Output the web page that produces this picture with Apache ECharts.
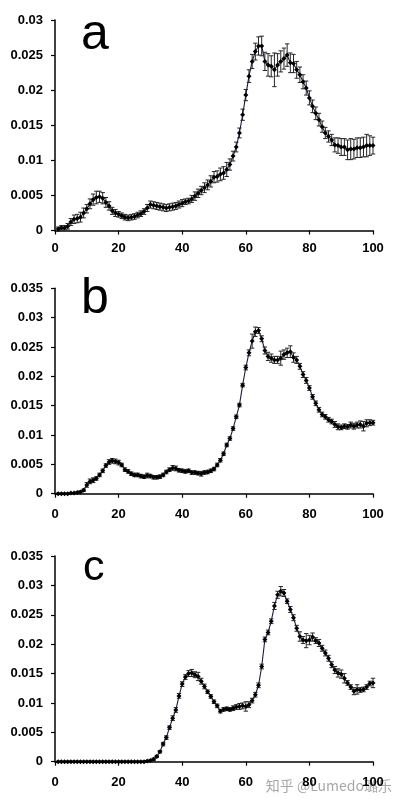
<!DOCTYPE html>
<html><head><meta charset="utf-8">
<script src="https://cdn.jsdelivr.net/npm/echarts@6/dist/echarts.min.js"></script>
<style>html,body{margin:0;padding:0;background:#fff}#c{width:400px;height:805px}</style>
</head><body><div id="c"></div>
<script>
// x positions of the measured points
const xPos = [1,2,3,4,5,6,7,8,9,10,11,12,13,14,15,16,17,18,19,20,21,22,23,24,25,26,27,28,29,30,31,32,33,34,35,36,37,38,39,40,41,42,43,44,45,46,47,48,49,50,51,52,53,54,55,56,57,58,59,60,61,62,63,64,65,66,67,68,69,70,71,72,73,74,75,76,77,78,79,80,81,82,83,84,85,86,87,88,89,90,91,92,93,94,95,96,97,98,99,100];

// panel a
const valuesA = [0.0002,0.0004,0.0004,0.0006,0.0012,0.0016,0.0017,0.0019,0.0025,0.0031,
0.0038,0.0044,0.0047,0.0048,0.0046,0.0040,0.0035,0.0028,0.0025,0.0023,
0.0021,0.0019,0.0018,0.0019,0.0020,0.0022,0.0024,0.0027,0.0032,0.0037,
0.0036,0.0035,0.0034,0.0033,0.0032,0.0033,0.0034,0.0035,0.0037,0.0039,
0.0041,0.0042,0.0045,0.0049,0.0053,0.0057,0.0061,0.0065,0.0070,0.0076,
0.0077,0.0080,0.0082,0.0087,0.0094,0.0106,0.0119,0.0139,0.0165,0.0193,
0.0220,0.0241,0.0255,0.0263,0.0263,0.0241,0.0236,0.0234,0.0229,0.0236,
0.0241,0.0245,0.0250,0.0239,0.0238,0.0229,0.0222,0.0212,0.0203,0.0189,
0.0177,0.0167,0.0158,0.0148,0.0139,0.0134,0.0129,0.0122,0.0121,0.0119,
0.0119,0.0115,0.0116,0.0116,0.0118,0.0118,0.0119,0.0121,0.0121,0.0121];
const errorsA = [0.0003,0.0003,0.0003,0.0004,0.0005,0.0006,0.0006,0.0007,0.0007,0.0006,
0.0007,0.0008,0.0009,0.0008,0.0008,0.0007,0.0006,
0.0005,0.0005,0.0004,0.0004,0.0004,0.0004,0.0004,0.0004,0.0004,0.0004,0.0004,0.0005,0.0005,
0.0005,0.0005,0.0005,0.0005,0.0005,0.0005,0.0005,0.0005,0.0005,0.0005,0.0004,0.0004,0.0005,0.0006,0.0006,
0.0006,0.0007,0.0007,0.0008,0.0008,0.0008,0.0009,0.0009,0.0010,0.0008,0.0007,0.0007,
0.0007,0.0008,0.0008,0.0009,0.0010,
0.0012,0.0013,0.0014,0.0013,
0.0016,0.0015,0.0024,0.0016,0.0015,0.0015,0.0016,0.0014,0.0013,0.0012,0.0011,0.0010,
0.0010,0.0010,0.0009,0.0009,0.0009,0.0008,0.0008,0.0008,0.0008,0.0010,
0.0011,0.0012,0.0012,0.0014,0.0015,0.0014,0.0014,0.0014,0.0014,0.0016,0.0014,0.0012];

// panel b
const valuesB = [0.0000,0.0000,0.0000,0.0000,0.0001,0.0001,0.0002,0.0003,0.0006,0.0015,
0.0021,0.0023,0.0026,0.0032,0.0039,0.0048,0.0054,0.0056,0.0055,0.0053,
0.0049,0.0041,0.0038,0.0034,0.0032,0.0032,0.0030,0.0029,0.0031,0.0030,
0.0028,0.0028,0.0029,0.0032,0.0037,0.0041,0.0044,0.0043,0.0040,0.0039,
0.0038,0.0039,0.0036,0.0036,0.0035,0.0034,0.0036,0.0037,0.0039,0.0042,
0.0049,0.0057,0.0068,0.0083,0.0094,0.0111,0.0131,0.0151,0.0185,0.0215,
0.0240,0.0260,0.0276,0.0278,0.0264,0.0244,0.0234,0.0231,0.0228,0.0228,
0.0231,0.0237,0.0240,0.0242,0.0232,0.0228,0.0217,0.0203,0.0193,0.0180,
0.0165,0.0154,0.0143,0.0135,0.0131,0.0126,0.0123,0.0118,0.0114,0.0113,
0.0115,0.0114,0.0117,0.0115,0.0117,0.0118,0.0115,0.0120,0.0121,0.0121];
const errorsB = [0.0001,0.0001,0.0001,0.0001,0.0001,0.0001,0.0001,0.0002,0.0002,
0.0004,0.0004,0.0004,0.0003,0.0003,0.0003,0.0003,0.0004,0.0004,0.0004,0.0004,0.0003,
0.0003,0.0003,0.0003,0.0003,0.0003,0.0003,0.0003,0.0004,0.0003,0.0003,
0.0003,0.0003,0.0003,0.0003,0.0003,0.0004,0.0004,0.0003,0.0003,0.0003,
0.0003,0.0003,0.0003,0.0003,0.0004,0.0003,0.0003,0.0003,0.0003,
0.0003,0.0003,0.0003,0.0003,0.0003,0.0003,0.0003,0.0003,0.0003,0.0004,
0.0005,0.0012,0.0008,0.0005,0.0005,
0.0006,0.0007,0.0007,0.0006,0.0006,0.0012,0.0008,0.0008,0.0010,0.0008,0.0006,0.0005,0.0005,
0.0005,0.0004,0.0004,0.0004,0.0004,0.0004,0.0004,0.0004,0.0004,0.0005,
0.0005,0.0004,0.0004,0.0004,0.0005,0.0005,0.0005,0.0006,0.0008,0.0006,0.0005,0.0004];

// panel c
const valuesC = [0,0,0,0,0,0,0,0,0,0,
0,0,0,0,0,0,0,0,0,0,
0,0,0,0,0,0,0,0,0.0001,0.0002,
0.0004,0.0009,0.0017,0.0030,0.0041,0.0058,0.0074,0.0088,0.0112,0.0132,
0.0144,0.0150,0.0151,0.0148,0.0145,0.0137,0.0128,0.0119,0.0111,0.0102,
0.0095,0.0086,0.0089,0.0090,0.0089,0.0091,0.0093,0.0094,0.0095,0.0094,
0.0097,0.0104,0.0114,0.0130,0.0162,0.0208,0.0220,0.0239,0.0265,0.0284,
0.0290,0.0287,0.0273,0.0259,0.0245,0.0227,0.0213,0.0207,0.0206,0.0207,
0.0212,0.0206,0.0202,0.0193,0.0185,0.0176,0.0165,0.0156,0.0151,0.0149,
0.0142,0.0134,0.0127,0.0120,0.0123,0.0122,0.0123,0.0127,0.0133,0.0134];
const errorsC = [0.0001,0.0001,0.0001,0.0001,0.0001,0.0001,0.0001,0.0001,0.0001,0.0001,
0.0001,0.0001,0.0001,0.0001,0.0001,0.0001,0.0001,0.0001,0.0001,0.0001,
0.0001,0.0001,0.0001,0.0001,0.0001,0.0001,0.0001,0.0001,0.0001,0.0001,
0.0002,0.0002,0.0002,0.0003,0.0003,0.0003,0.0004,0.0004,0.0004,0.0004,
0.0004,0.0005,0.0006,0.0005,0.0007,0.0005,0.0004,
0.0003,0.0003,0.0003,0.0003,0.0003,0.0003,0.0003,0.0003,
0.0004,0.0004,0.0005,0.0005,0.0008,0.0005,0.0004,
0.0004,0.0004,0.0004,0.0004,0.0004,0.0004,
0.0006,0.0006,0.0008,0.0006,0.0004,0.0005,0.0005,0.0005,
0.0008,0.0006,0.0012,0.0008,0.0007,0.0005,0.0006,0.0005,0.0005,0.0005,
0.0005,0.0006,0.0007,0.0007,0.0008,0.0004,0.0004,0.0006,0.0008,0.0004,0.0004,0.0004,0.0004,0.0008];

const panelLetters = ['a','b','c'];
const yMaxes = [0.03, 0.035, 0.035];
const yStep = 0.005;
const xMin = 0, xMax = 100, xStep = 20;
const watermark = '知乎 @Lumedo璐乐';

const panelValues = [valuesA, valuesB, valuesC];
const panelErrors = [errorsA, errorsB, errorsC];

const gridBoxes = [
  {left:55, top:20, width:318, height:210.5},
  {left:55, top:288.3, width:318, height:205.4},
  {left:55, top:556, width:318, height:205.7}
];
const xLabelMargins = [11.5, 14.5, 14.5];
const letterBaselines = [53, 316.7, 583];
const letterSizes = [50, 50, 43];

const labelFont = {color:'#000', fontFamily:'Liberation Sans, Arial, sans-serif', fontWeight:'bold', fontSize:13};

function errorBar(params, api) {
  const x = api.value(0);
  const lo = api.coord([x, api.value(1)]);
  const hi = api.coord([x, api.value(2)]);
  const w = 2.2;
  const st = {stroke:'#262626', lineWidth:1};
  return {type:'group', children:[
    {type:'line', shape:{x1:lo[0], y1:lo[1], x2:hi[0], y2:hi[1]}, style:st},
    {type:'line', shape:{x1:lo[0]-w, y1:lo[1], x2:lo[0]+w, y2:lo[1]}, style:st},
    {type:'line', shape:{x1:hi[0]-w, y1:hi[1], x2:hi[0]+w, y2:hi[1]}, style:st}
  ]};
}

const grid = [], xAxis = [], yAxis = [], series = [], graphic = [];
for (let i = 0; i < 3; i++) {
  grid.push(gridBoxes[i]);
  xAxis.push({
    type:'value', gridIndex:i, min:xMin, max:xMax, interval:xStep,
    axisLine:{show:true, onZero:false, lineStyle:{color:'#000', width:1.5}},
    axisTick:{show:true, length:4, lineStyle:{color:'#000', width:1.2}},
    splitLine:{show:false},
    axisLabel:Object.assign({margin:xLabelMargins[i]}, labelFont)
  });
  yAxis.push({
    type:'value', gridIndex:i, min:0, max:yMaxes[i], interval:yStep,
    axisLine:{show:true, lineStyle:{color:'#000', width:1.5}},
    axisTick:{show:true, length:4, lineStyle:{color:'#000', width:1.2}},
    splitLine:{show:false},
    axisLabel:Object.assign({margin:12}, labelFont)
  });
  const vals = panelValues[i], errs = panelErrors[i];
  series.push({
    type:'custom', xAxisIndex:i, yAxisIndex:i, renderItem:errorBar,
    encode:{x:0, y:[1,2]}, z:2, silent:true,
    data: xPos.map((x,k) => [x, vals[k]-errs[k], vals[k]+errs[k]])
  });
  series.push({
    type:'line', xAxisIndex:i, yAxisIndex:i, z:3, silent:true,
    data: xPos.map((x,k) => [x, vals[k]]),
    symbol:'diamond', symbolSize:5,
    itemStyle:{color:'#000'},
    lineStyle:{color:'#1c1c3c', width:1.1}
  });
  const fs = letterSizes[i];
  graphic.push({
    type:'text', x:i === 2 ? 83 : 81, y:letterBaselines[i] - 0.35 * fs,
    style:{text:panelLetters[i], font:fs + 'px "Liberation Sans", Arial, sans-serif', fill:'#000', textVerticalAlign:'middle', textAlign:'left'}
  });
}
graphic.push({
  type:'text', x:392, y:786,
  style:{text:watermark, font:'14px "Noto Sans CJK SC", sans-serif', fill:'rgba(150,150,150,0.85)', stroke:'rgba(255,255,255,0.9)', lineWidth:1.5, textAlign:'right', textVerticalAlign:'middle'}
});

const chart = echarts.init(document.getElementById('c'));
chart.setOption({animation:false, grid, xAxis, yAxis, series, graphic});
</script>
</body></html>
